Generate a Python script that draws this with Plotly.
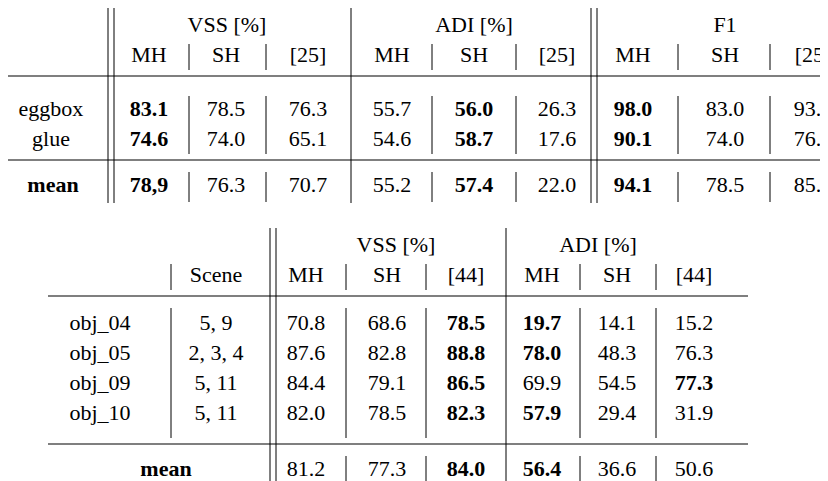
import plotly.graph_objects as go

# ---- Data ----
t1_groups = ["VSS [%]", "ADI [%]", "F1"]
t1_sub = ["MH", "SH", "[25]"]
t1_rows = ["eggbox", "glue"]
t1_vals = [["83.1", "78.5", "76.3", "55.7", "56.0", "26.3", "98.0", "83.0", "93.7"],
           ["74.6", "74.0", "65.1", "54.6", "58.7", "17.6", "90.1", "74.0", "76.8"]]
t1_mean = ["78,9", "76.3", "70.7", "55.2", "57.4", "22.0", "94.1", "78.5", "85.5"]

t2_groups = ["VSS [%]", "ADI [%]"]
t2_sub = ["MH", "SH", "[44]"]
t2_rows = ["obj_04", "obj_05", "obj_09", "obj_10"]
t2_scene = ["5, 9", "2, 3, 4", "5, 11", "5, 11"]
t2_vals = [["70.8", "68.6", "78.5", "19.7", "14.1", "15.2"],
           ["87.6", "82.8", "88.8", "78.0", "48.3", "76.3"],
           ["84.4", "79.1", "86.5", "69.9", "54.5", "77.3"],
           ["82.0", "78.5", "82.3", "57.9", "29.4", "31.9"]]
t2_mean = ["81.2", "77.3", "84.0", "56.4", "36.6", "50.6"]

W, H = 828, 481
FONT = dict(family="Liberation Serif", size=22, color="black")
xs, ys, txt = [], [], []
shapes = []

def put(x, y, t):
    xs.append(x); ys.append(y); txt.append(t)

def num(s):
    return float(s.replace(",", "."))

def bolded(row, ng):
    out = []
    for g in range(ng):
        seg = row[3*g:3*g+3]
        m = max(num(v) for v in seg)
        out += [f"<b>{v}</b>" if num(v) == m else v for v in seg]
    return out

def vline(x, y0, y1, w=1):
    shapes.append(dict(type="line", x0=x, x1=x, y0=y0, y1=y1, line=dict(color="black", width=w)))

def hline(y, x0, x1):
    shapes.append(dict(type="line", x0=x0, x1=x1, y0=y, y1=y, line=dict(color="black", width=1.2)))

# ---- Table 1 ----
g1x = [219, 466, 717]
c1x = [141, 218, 300, 384, 466, 549, 625, 717, 805]
sep1 = [181, 258, 424, 508, 670, 762]
for g, x in zip(t1_groups, g1x):
    put(x, 18, g)
for i, x in enumerate(c1x):
    put(x, 48, t1_sub[i % 3])
ry1 = [102, 132]
for r, y in zip(t1_rows, ry1):
    put(43, y, r)
for row, y in zip(t1_vals, ry1):
    for x, v in zip(c1x, bolded(row, 3)):
        put(x, y, v)
put(45, 178, "<b>mean</b>")
for x, v in zip(c1x, bolded(t1_mean, 3)):
    put(x, 178, v)
hline(68, 0, W); hline(152, 0, W)
for x in (100, 106, 583, 589):
    vline(x, 0, 195)
vline(343, 0, 195)
for x in sep1:
    for (a, b) in [(36, 62), (88, 146), (164, 194)]:
        vline(x, a, b)

# ---- Table 2 ----
g2x = [388, 590]
c2x = [298, 379, 458, 534, 609, 686]
sep2 = [338, 418, 572, 648]
for g, x in zip(t2_groups, g2x):
    put(x, 238, g)
put(208, 268, "Scene")
for i, x in enumerate(c2x):
    put(x, 268, t2_sub[i % 3])
ry2 = [316, 346, 376, 406]
for r, s, row, y in zip(t2_rows, t2_scene, t2_vals, ry2):
    put(92, y, r)
    put(208, y, s)
    for x, v in zip(c2x, bolded(row, 2)):
        put(x, y, v)
put(158, 462, "<b>mean</b>")
for x, v in zip(c2x, bolded(t2_mean, 2)):
    put(x, 462, v)
hline(288, 40, 740); hline(436, 40, 740)
for x in (262, 268):
    vline(x, 220, 478)
vline(498, 220, 478)
for x in sep2:
    for (a, b) in [(256, 282), (300, 430), (448, 476)]:
        vline(x, a, b)
for (a, b) in [(256, 282), (300, 430)]:
    vline(163, a, b)

fig = go.Figure(go.Scatter(x=xs, y=ys, text=txt, mode="text", textposition="middle center",
                           textfont=FONT, hoverinfo="skip", cliponaxis=False))
fig.update_layout(width=W, height=H, margin=dict(l=0, r=0, t=0, b=0),
                  paper_bgcolor="white", plot_bgcolor="white", showlegend=False,
                  shapes=shapes,
                  xaxis=dict(range=[0, W], visible=False, fixedrange=True),
                  yaxis=dict(range=[H, 0], visible=False, fixedrange=True))
fig.write_html("out.html")
